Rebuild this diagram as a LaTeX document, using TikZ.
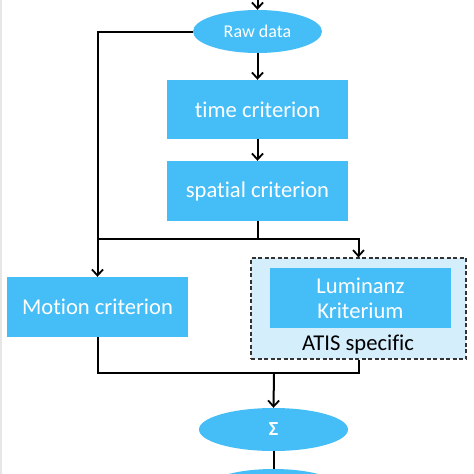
\documentclass[tikz,border=0pt]{standalone}
\usepackage{fontspec}
\setmainfont{Carlito}[Ligatures=NoCommon]
\usetikzlibrary{shapes.geometric,arrows.meta}
\definecolor{boxblue}{HTML}{45BDF7}
\definecolor{paleblue}{HTML}{D5EEFB}
\definecolor{edgegray}{HTML}{E6E6E6}
\tikzset{
  blockbox/.style={rectangle, fill=boxblue, text=white, minimum width=181pt, minimum height=60pt, inner sep=0pt, align=center, font=\fontsize{22.6}{25}\selectfont},
  ovalbox/.style={ellipse, fill=boxblue, text=white, inner sep=0pt, font=\fontsize{18}{20}\selectfont},
  groupbox/.style={rectangle, draw=black!80, dashed, line width=1.2pt, dash pattern=on 4pt off 2.5pt, fill=paleblue, minimum width=215pt, minimum height=101pt, inner sep=0pt},
  conn/.style={line width=2pt, draw=black},
  arr/.style={conn, -{Straight Barb[length=6pt,width=11pt,line width=1.8pt]}},
}
\begin{document}
\begin{tikzpicture}[x=1pt,y=-1pt]
\useasboundingbox (0,0) rectangle (474,474);
\fill[white] (0,0) rectangle (474,474);
\fill[edgegray] (0,0) rectangle (2,474);
\begin{scope}
\clip (0,0) rectangle (474,474);
\node[ovalbox, minimum width=129pt, minimum height=43pt] (raw) at (257.5,31.5) {Raw data};
\node[blockbox, minimum height=59pt] (time) at (257.5,109.5) {time criterion};
\node[blockbox] (spatial) at (257.5,191) {spatial criterion};
\node[blockbox] (motion) at (97.5,307) {Motion criterion};
\node[groupbox] (atis) at (358.5,308.5) {};
\node[blockbox] (lum) at (360.5,298) {Luminanz\\Kriterium};
\node[font=\fontsize{22.6}{25}\selectfont, text=black, inner sep=0pt] (atistext) at (358,345) {ATIS specific};
\node[ovalbox, minimum width=149pt, minimum height=43pt, font=\fontsize{20}{22}\selectfont\bfseries] (sigma) at (273.5,429.5) {Σ};
\node[ovalbox, minimum width=140pt, minimum height=43pt] (next) at (273.5,490.5) {};
\coordinate (in) at (257.5,-3);
\coordinate (j0) at (97.5,239);
\coordinate (j1) at (257.5,239);
\coordinate (j2) at (274,373);
\draw[arr] (in) -- (raw.north);
\draw[arr] (raw.south) -- (time.north);
\draw[arr] (time.south) -- (spatial.north);
\draw[arr] (raw.west) -| (motion.north);
\draw[conn] (spatial.south) -- (j1);
\draw[conn] (j0) -- (j1);
\draw[arr] (j1) -| (atis.north);
\draw[conn] (motion.south) |- (j2);
\draw[conn] (atis.south) |- (j2);
\draw[arr] (j2) -- (sigma.north);
\draw[conn] (sigma.south) -- (next.north);
\end{scope}
\end{tikzpicture}
\end{document}
